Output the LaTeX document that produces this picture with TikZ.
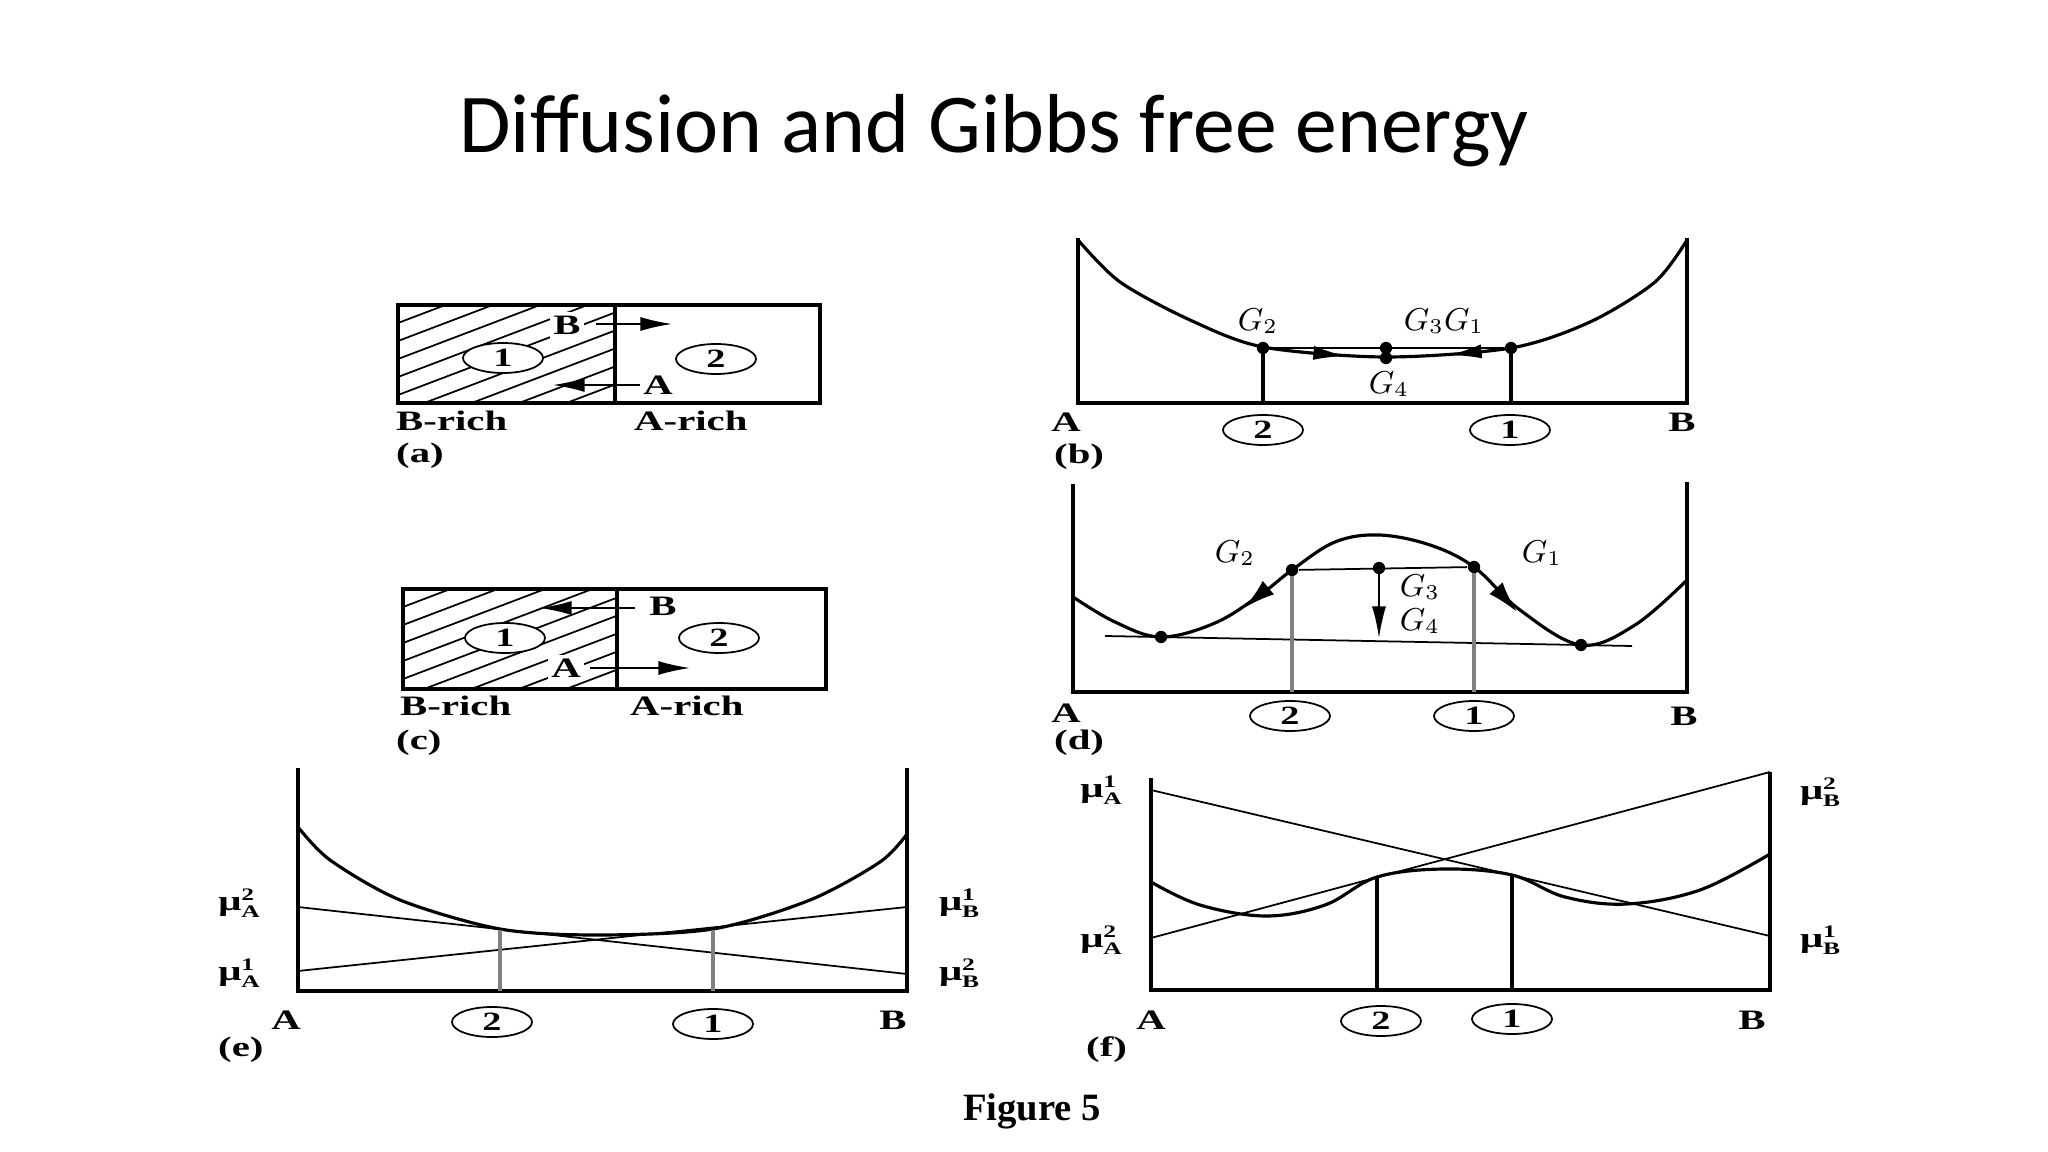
\documentclass[tikz,border=0pt]{standalone}
\usepackage{fontspec}
\setmainfont{Liberation Serif}
\newfontfamily\titlefont{Carlito}
\newfontfamily\wide[FakeStretch=1.45]{Liberation Serif}
\usetikzlibrary{arrows.meta,shapes.geometric}
\begin{document}
\begin{tikzpicture}[x=0.01cm,y=-0.01cm,
  lab/.style={font=\wide\fontsize{8}{9}\selectfont\bfseries, inner sep=1pt},
  num/.style={draw, ellipse, font=\wide\fontsize{7.5}{9}\selectfont\bfseries, minimum width=0.8cm, minimum height=0.3cm, inner sep=0pt, line width=0.5pt},
  gl/.style={font=\fontsize{9}{10}\selectfont, inner sep=1pt},
  axis/.style={line width=0.9pt},
  thin/.style={line width=0.5pt},
  crv/.style={line width=0.9pt},
  arr/.style={-{Latex[length=9pt,width=4pt]}, line width=0.5pt},
  dot/.style={circle, fill, inner sep=0pt, minimum size=3.5pt}]
\useasboundingbox (0,0) rectangle (2048,1152);
\node[font=\titlefont\fontsize{23.8}{28}\selectfont] (title) at (994,131) {Diffusion and Gibbs free energy};

% ---------- (a)
\begin{scope}
\clip (398,305) rectangle (615,403);
\foreach \k in {0,...,16} {\draw[thin] (398,{305+18*\k}) -- ++(300,-114);}
\end{scope}
\draw[axis] (398,305) rectangle (820,403);
\draw[axis] (615,305) -- (615,403);
\node[num, fill=white] (a1) at (503,358) {1};
\node[num] (a2) at (716,359) {2};
\node[lab, fill=white] (aB) at (567,325) {B};
\coordinate (aBs) at (596,324); \coordinate (aBe) at (672,324);
\draw[arr] (aBs) -- (aBe);
\node[lab, fill=white] (aA) at (658,385) {A};
\coordinate (aAs) at (640,385); \coordinate (aAe) at (553,385);
\draw[arr] (aAs) -- (aAe);
\node[lab, anchor=west] (abr) at (392,421) {B-rich};
\node[lab, anchor=west] (aar) at (630,421) {A-rich};
\node[lab, anchor=west] (al) at (392,456) {(a)};

% ---------- (c)
\begin{scope}
\clip (403,589) rectangle (617,689);
\foreach \k in {0,...,16} {\draw[thin] (403,{589+18*\k}) -- ++(300,-114);}
\end{scope}
\draw[axis] (403,589) rectangle (826,689);
\draw[axis] (617,589) -- (617,689);
\node[num, fill=white] (c1) at (505,638) {1};
\node[num] (c2) at (719,638) {2};
\node[lab, fill=white] (cB) at (663,606) {B};
\coordinate (cBs) at (635,608); \coordinate (cBe) at (540,608);
\draw[arr] (cBs) -- (cBe);
\node[lab, fill=white] (cA) at (566,668) {A};
\coordinate (cAs) at (590,668); \coordinate (cAe) at (690,668);
\draw[arr] (cAs) -- (cAe);
\node[lab, anchor=west] (cbr) at (396,706) {B-rich};
\node[lab, anchor=west] (car) at (626,706) {A-rich};
\node[lab, anchor=west] (cl) at (392,743) {(c)};

% ---------- (b)
\draw[axis] (1078,238) -- (1078,403) -- (1687,403) -- (1687,238);
\draw[crv] plot[smooth] coordinates {(1078,240) (1120,282) (1190,320) (1263,347) (1385,357) (1511,348) (1590,322) (1655,282) (1687,240)};
\draw[axis] (1263,348) -- (1263,403);
\draw[axis] (1511,348) -- (1511,403);
\node[dot] (bd2) at (1263,348) {};
\node[dot] (bd1) at (1511,348) {};
\node[dot] (bd3) at (1386,348) {};
\node[dot] (bd4) at (1386,358) {};
\draw[thin] (bd2) -- (bd1);
\draw[arr] (bd2.center) -- (1345,356);
\draw[arr] (bd1.center) -- (1450,355);
\node[gl] (bG2) at (1258,321) {$G_2$};
\node[gl] (bG3) at (1444,321) {$G_3G_1$};
\node[gl] (bG4) at (1389,384) {$G_4$};
\node[lab] (bA) at (1066,422) {A};
\node[num] (b2) at (1263,430) {2};
\node[num] (b1) at (1510,430) {1};
\node[lab] (bB) at (1682,422) {B};
\node[lab, anchor=west] (bl) at (1050,457) {(b)};

% ---------- (d)
\draw[axis] (1073,484) -- (1073,692) -- (1687,692) -- (1687,482);
\draw[crv] plot[smooth, tension=0.6] coordinates {(1073,597) (1115,622) (1161,637) (1215,623) (1260,595) (1292,570) (1335,542) (1379,535) (1430,545) (1474,567) (1520,610) (1581,645) (1635,625) (1687,580)};
\draw[thin] (1105,636) -- (1632,646);
\draw[axis,gray] (1292,570) -- (1292,692);
\draw[axis,gray] (1474,567) -- (1474,692);
\node[dot] (dd2) at (1292,570) {};
\node[dot] (dd1) at (1474,567) {};
\node[dot] (dd3) at (1379,568) {};
\node[dot] (dmin1) at (1161,637) {};
\node[dot] (dmin2) at (1581,645) {};
\draw[thin] (dd2) -- (dd1);
\coordinate (d4) at (1379,638);
\draw[arr] (dd3.center) -- (d4);
\draw[-{Latex[length=9pt,width=5pt]}, line width=0.9pt] (1262,593) -- (1244,608);
\draw[-{Latex[length=9pt,width=5pt]}, line width=0.9pt] (1502,595) -- (1517,612);
\node[gl] (dG2) at (1235,553) {$G_2$};
\node[gl] (dG1) at (1542,553) {$G_1$};
\node[gl] (dG3) at (1420,587) {$G_3$};
\node[gl] (dG4) at (1420,621) {$G_4$};
\node[lab] (dA) at (1066,713) {A};
\node[num] (d2) at (1290,716) {2};
\node[num] (d1) at (1474,716) {1};
\node[lab] (dB) at (1684,716) {B};
\node[lab, anchor=west] (dl) at (1050,743) {(d)};

% ---------- (e)
\draw[axis] (298,768) -- (298,991) -- (907,991) -- (907,768);
\draw[crv] plot[smooth] coordinates {(298,827) (330,860) (400,900) (500,929) (597,935) (713,929) (810,900) (880,862) (907,834)};
\draw[thin] (298,907) -- (907,974);
\draw[thin] (298,971) -- (907,907);
\draw[axis,gray] (500,930) -- (500,991);
\draw[axis,gray] (713,930) -- (713,991);
\node[lab] (eA2) at (240,903) {μ$^{\mbox{\tiny 2}}_{\mbox{\tiny A}}$};
\node[lab] (eA1) at (240,973) {μ$^{\mbox{\tiny 1}}_{\mbox{\tiny A}}$};
\node[lab] (eB1) at (960,903) {μ$^{\mbox{\tiny 1}}_{\mbox{\tiny B}}$};
\node[lab] (eB2) at (960,973) {μ$^{\mbox{\tiny 2}}_{\mbox{\tiny B}}$};
\node[lab] (eA) at (286,1020) {A};
\node[num] (e2) at (492,1022) {2};
\node[num] (e1) at (713,1024) {1};
\node[lab] (eB) at (893,1020) {B};
\node[lab, anchor=west] (el) at (214,1050) {(e)};

% ---------- (f)
\draw[axis] (1151,778) -- (1151,990) -- (1770,990) -- (1770,772);
\draw[thin] (1151,790) -- (1770,936);
\draw[thin] (1151,938) -- (1770,772);
\draw[crv] plot[smooth, tension=0.6] coordinates {(1151,882) (1200,905) (1266,916) (1325,905) (1377,877) (1444,869) (1512,875) (1565,897) (1627,904) (1700,890) (1770,854)};
\draw[axis] (1377,877) -- (1377,990);
\draw[axis] (1512,875) -- (1512,990);
\node[lab] (fA1) at (1102,790) {μ$^{\mbox{\tiny 1}}_{\mbox{\tiny A}}$};
\node[lab] (fA2) at (1102,940) {μ$^{\mbox{\tiny 2}}_{\mbox{\tiny A}}$};
\node[lab] (fB2) at (1821,792) {μ$^{\mbox{\tiny 2}}_{\mbox{\tiny B}}$};
\node[lab] (fB1) at (1821,940) {μ$^{\mbox{\tiny 1}}_{\mbox{\tiny B}}$};
\node[lab] (fA) at (1151,1020) {A};
\node[num] (f2) at (1381,1021) {2};
\node[num] (f1) at (1512,1019) {1};
\node[lab] (fB) at (1752,1020) {B};
\node[lab, anchor=west] (fl) at (1082,1050) {(f)};

\node[font=\fontsize{11}{13}\selectfont\bfseries] (fig) at (1032,1111) {Figure 5};
\end{tikzpicture}
\end{document}
